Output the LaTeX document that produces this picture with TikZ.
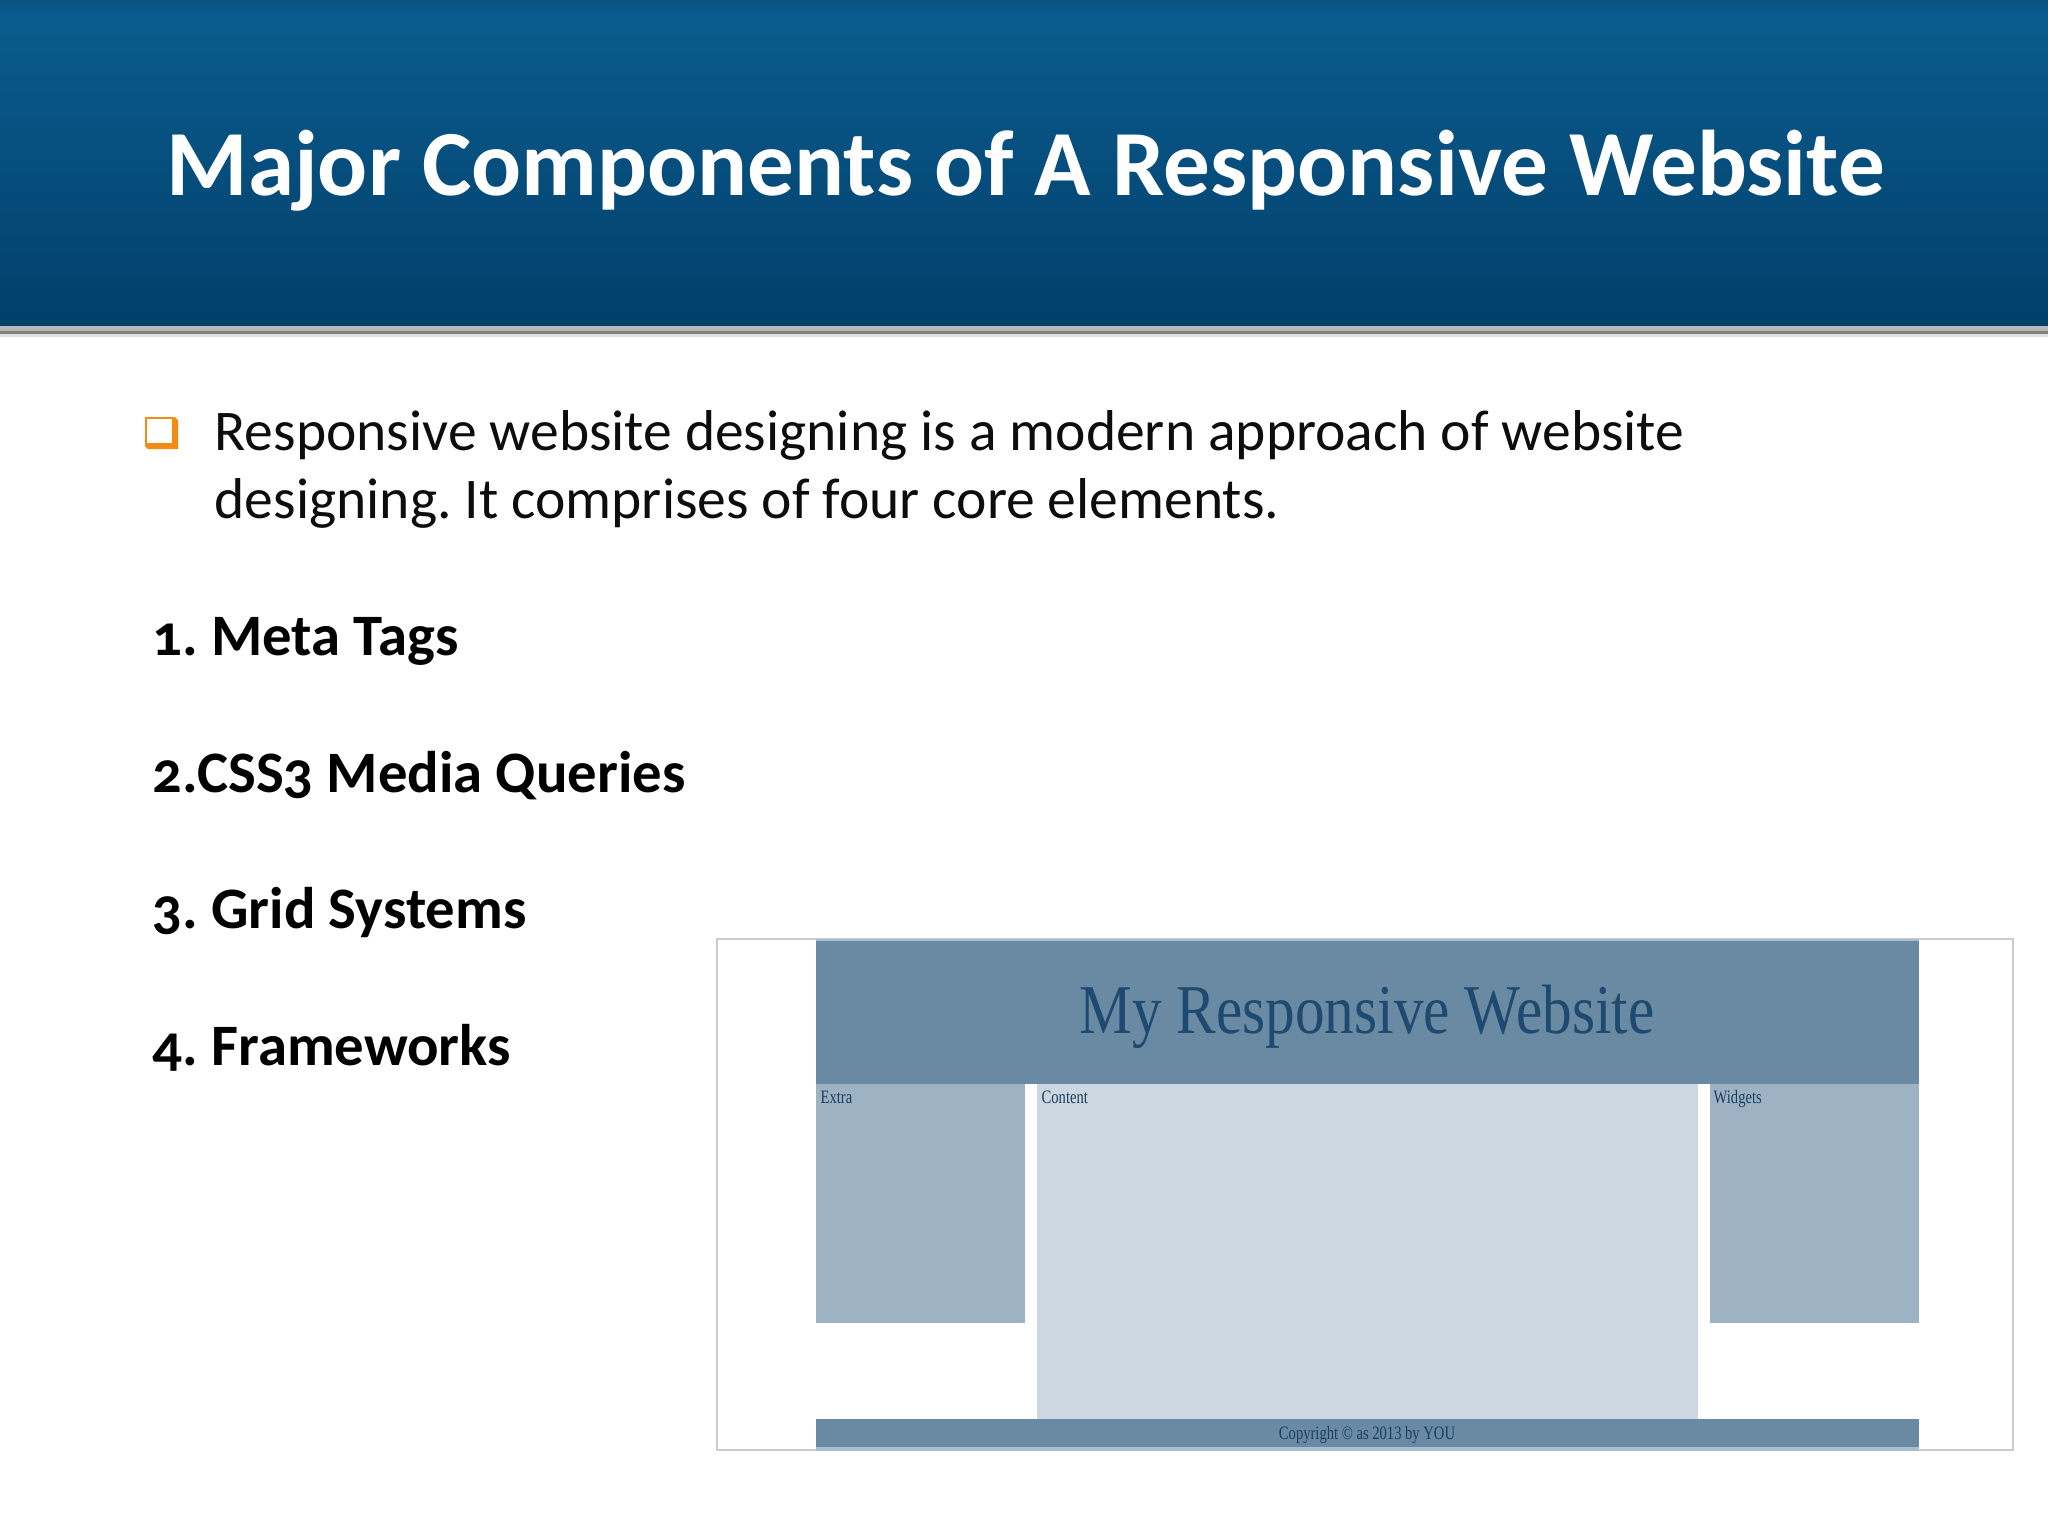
\documentclass[tikz,border=0pt]{standalone}
\usepackage{fontspec}
\setmainfont[Numbers=OldStyle]{Carlito}
\newfontfamily\shotfont{Liberation Serif}
\usepackage{tikz}
\frenchspacing
\definecolor{headtop}{HTML}{0A5180}
\definecolor{headmid}{HTML}{0A5C8E}
\definecolor{headlow}{HTML}{023F6B}
\definecolor{shotblue}{HTML}{6A8AA3}
\definecolor{shotedge}{HTML}{A9BDCC}
\definecolor{shotside}{HTML}{9DB2C2}
\definecolor{shotmain}{HTML}{CDD7E1}
\definecolor{shotink}{HTML}{1F4A70}
\definecolor{bulletorange}{HTML}{F28C12}
\newcommand{\tallshot}[2]{\scalebox{1}[#1]{#2}}
\tikzset{
    titletext/.style={anchor=base west, inner sep=0pt, text=white, font=\fontsize{26.5}{30}\selectfont\bfseries},
    bodytext/.style={anchor=base west, inner sep=0pt, text=black!95, font=\fontsize{16.37}{20}\selectfont},
    itemtext/.style={anchor=base west, inner sep=0pt, font=\fontsize{16.7}{20}\selectfont\bfseries},
    shottiny/.style={anchor=base west, inner sep=0pt, text=shotink!85!black, font=\fontsize{4.15}{5}\selectfont\shotfont}
}

\begin{document}
\begin{tikzpicture}[x=0.01cm, y=-0.01cm]
    \useasboundingbox (0,0) rectangle (2048,1536);
    \fill [white] (0,0) rectangle (2048,1536);
    % title band
    \shade [top color=headtop, bottom color=headmid] (0,0) rectangle (2048,15);
    \shade [top color=headmid, bottom color=headlow] (0,15) rectangle (2048,326);
    \fill [black!28] (0,326) rectangle (2048,331);
    \fill [black!50] (0,331) rectangle (2048,334);
    \fill [black!12] (0,334) rectangle (2048,337);
    \node [titletext] (title) at (166,195) {Major Components of A Responsive Website};
    % bullet and text
    \fill [bulletorange] (145,417) -- (175,417) -- (178,420) -- (178,449) -- (148,449) -- (145,446) -- cycle;
    \fill [white] (147,419) rectangle (172,443);
    \node [bodytext] (lineone) at (214,450) {Responsive website designing is a modern approach of website};
    \node [bodytext] (linetwo) at (214,518) {designing. It comprises of four core elements.};
    \node [itemtext] (itemone) at (152,655) {1. Meta Tags};
    \node [itemtext] (itemtwo) at (152,792) {2.CSS3 Media Queries};
    \node [itemtext] (itemthree) at (152,928) {3. Grid Systems};
    \node [itemtext] (itemfour) at (152,1065) {4. Frameworks};
    % screenshot
    \draw [black!20, line width=0.4pt] (717,939) rectangle (2013,1450);
    \fill [shotblue] (816,939) rectangle (1919,1084);
    \fill [shotedge] (816,939) rectangle (1919,941);
    \fill [shotside] (816,1084) rectangle (1025,1323);
    \fill [shotmain] (1037,1084) rectangle (1698,1419);
    \fill [shotside] (1710,1084) rectangle (1919,1323);
    \fill [shotedge] (816,1447) rectangle (1919,1451);
    \fill [shotblue] (816,1419) rectangle (1919,1447);
    \node [anchor=base, inner sep=0pt, text=shotink, font=\fontsize{16.85}{20}\selectfont\shotfont] (shottitle) at (1367,1033) {\tallshot{1.18}{My Responsive Website}};
    \node [shottiny] (extra) at (820,1103) {\tallshot{1.3}{Extra}};
    \node [shottiny] (content) at (1041,1103) {\tallshot{1.3}{Content}};
    \node [shottiny] (widgets) at (1713,1103) {\tallshot{1.3}{Widgets}};
    \node [shottiny, anchor=base] (copyright) at (1367,1439) {\tallshot{1.3}{Copyright © as 2013 by YOU}};
\end{tikzpicture}
\end{document}
